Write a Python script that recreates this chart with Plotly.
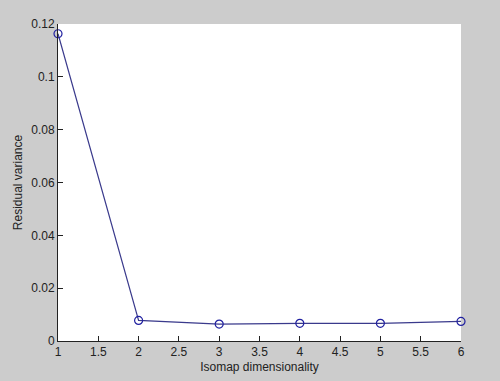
import plotly.graph_objects as go

dims = [1, 2, 3, 4, 5, 6]
residual_variance = [0.1163, 0.0078, 0.0064, 0.0067, 0.0067, 0.0074]

x_ticks = [1, 1.5, 2, 2.5, 3, 3.5, 4, 4.5, 5, 5.5, 6]
x_tick_labels = ["1", "1.5", "2", "2.5", "3", "3.5", "4", "4.5", "5", "5.5", "6"]
y_ticks = [0, 0.02, 0.04, 0.06, 0.08, 0.1, 0.12]
y_tick_labels = ["0", "0.02", "0.04", "0.06", "0.08", "0.1", "0.12"]

fig = go.Figure()
fig.add_trace(go.Scatter(
    x=dims, y=residual_variance, mode="lines+markers",
    line=dict(color="#3a3a8c", width=1.2),
    marker=dict(symbol="circle-open", size=8, color="#2020a0", line=dict(width=1.2)),
    showlegend=False, cliponaxis=False,
))

font = dict(family="Arial, Liberation Sans, sans-serif", size=12, color="#222222")
fig.update_layout(
    width=500, height=381,
    paper_bgcolor="#cccccc", plot_bgcolor="#ffffff",
    margin=dict(l=58, r=39, t=24, b=40),
    font=font,
)
fig.update_xaxes(
    range=[1, 6], tickvals=x_ticks, ticktext=x_tick_labels,
    ticks="inside", ticklen=5, tickcolor="#222222", tickwidth=1,
    showline=True, linecolor="#222222", linewidth=1,
    showgrid=False, zeroline=False, automargin=False,
    title=dict(text="Isomap dimensionality", standoff=4, font=font),
)
fig.update_yaxes(
    range=[0, 0.12], tickvals=y_ticks, ticktext=y_tick_labels,
    ticks="inside", ticklen=5, tickcolor="#222222", tickwidth=1,
    showline=True, linecolor="#222222", linewidth=1,
    showgrid=False, zeroline=False, automargin=False,
    title=dict(text="Residual variance", standoff=6, font=font),
)
fig.write_html("out.html")
